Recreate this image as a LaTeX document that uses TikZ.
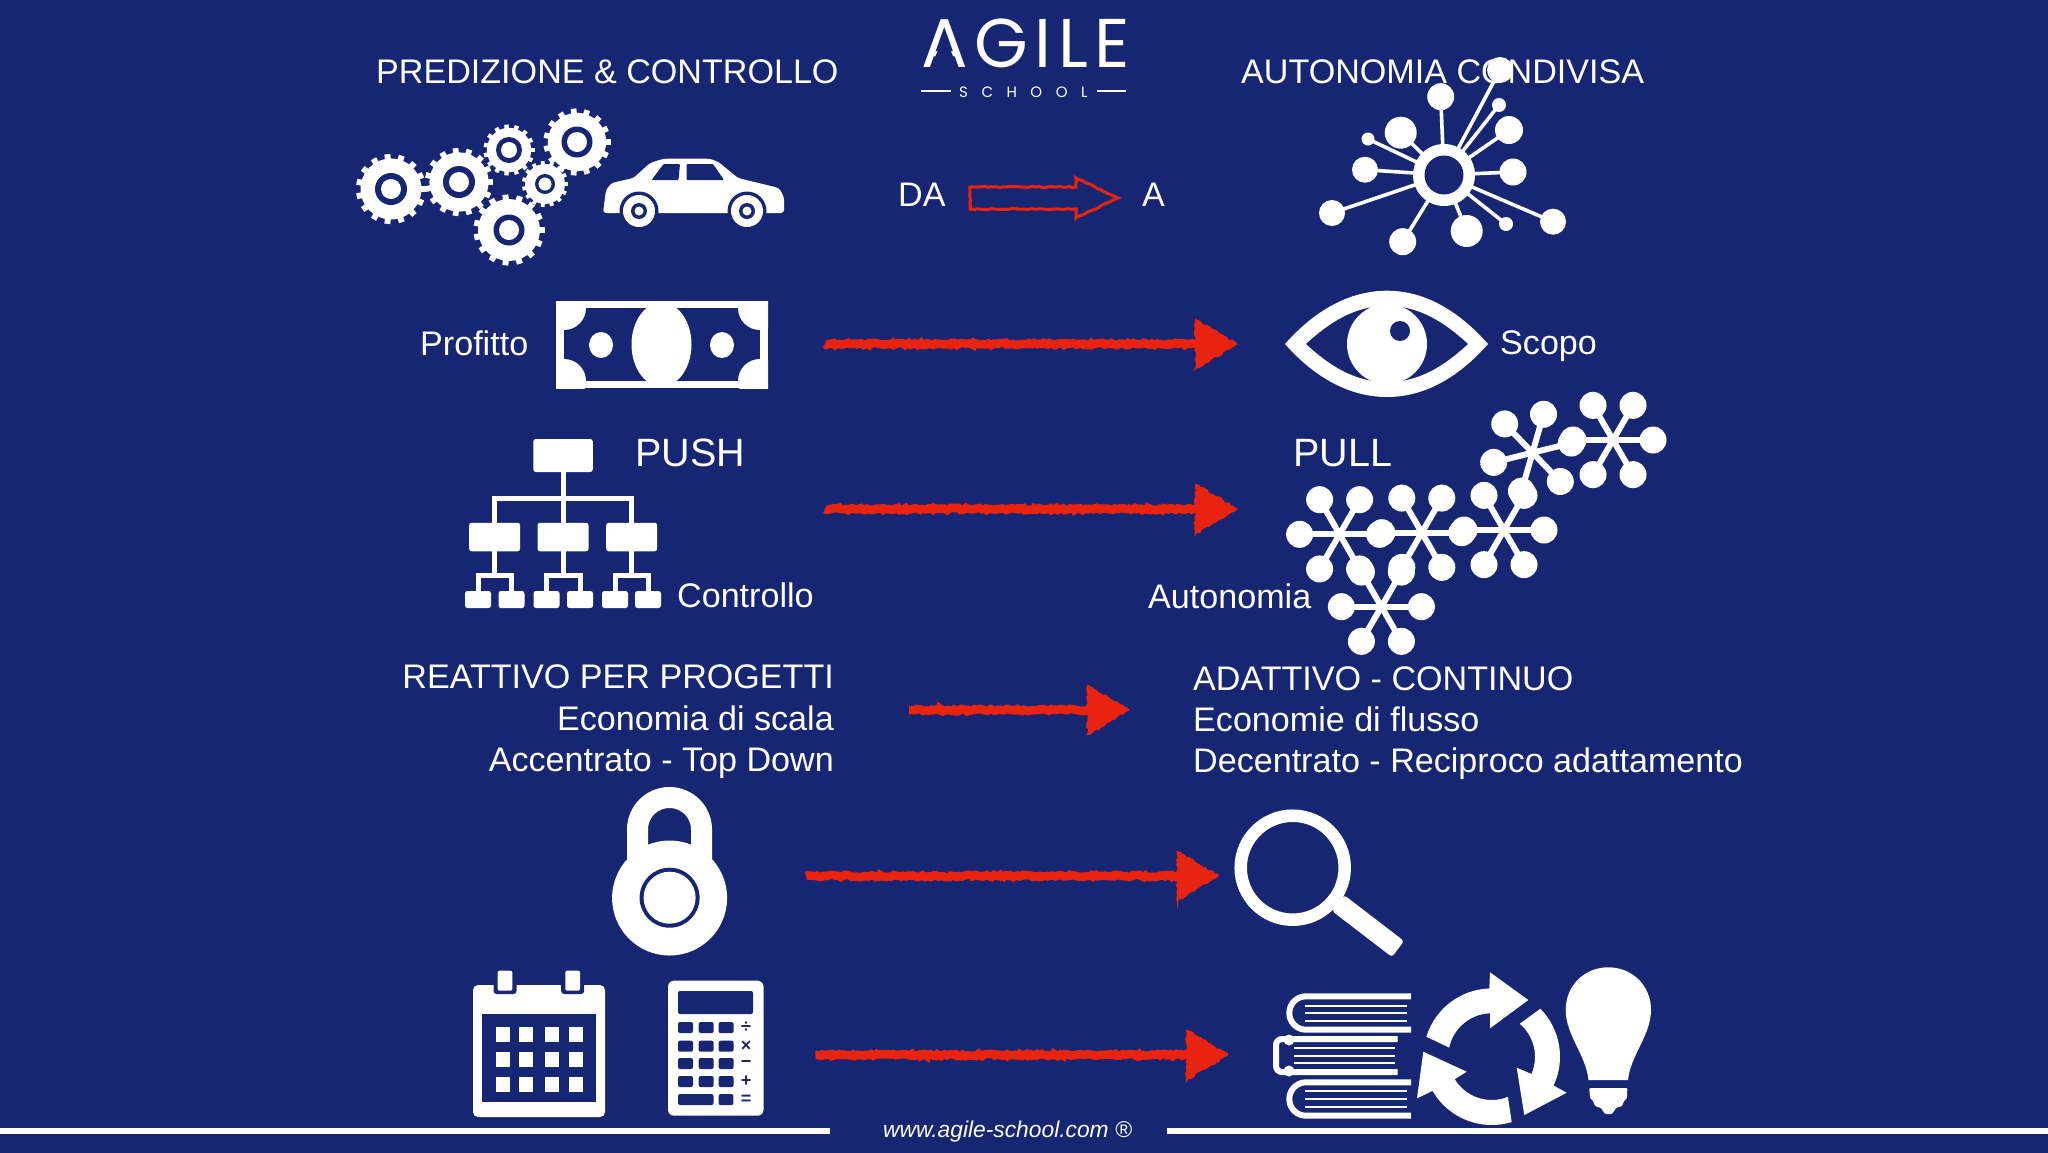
\documentclass[tikz,border=0pt]{standalone}
\usepackage{fontspec}
\setmainfont{Liberation Sans}
\newfontfamily\logofont{Poppins}
\usetikzlibrary{positioning,calc}
\usetikzlibrary{decorations.pathmorphing}
\definecolor{AgileBlue}{RGB}{23,38,114}
\definecolor{ArrowRed}{RGB}{232,36,16}
\tikzset{
  lbl/.style={text=white,inner sep=0pt,anchor=base west,font=\fontsize{34.1}{34.1}\selectfont},
  lblr/.style={lbl,anchor=base east},
  biglbl/.style={lbl,font=\fontsize{39.5}{39.5}\selectfont},
  orgbox/.style={fill=white,rounded corners=2.5pt,inner sep=0pt,minimum width=#1},
  orgline/.style={draw=white,line width=5pt},
  spoke/.style={draw=white,line width=3.6pt},
  hand/.style={decorate,decoration={random steps,segment length=2.5pt,amplitude=1.2pt}},
  redline/.style={hand,draw=ArrowRed,line width=8.5pt},
  redhead/.style={hand,draw=ArrowRed,line width=2pt,fill=ArrowRed},
  keycap/.style={fill=AgileBlue,rounded corners=2pt},
  pageline/.style={draw=white,line width=2.2pt},
  bookline/.style={draw=white,line width=6pt},
}
\newcommand{\gearicon}[5]{
  \fill[white] (#1,#2) circle ({0.87*#3});
  \foreach \ang in {0,24,...,336}
    \draw[white,line width=#3*0.17pt] ($(#1,#2)+(\ang:{0.8*#3})$) -- ($(#1,#2)+(\ang:{#3})$);
  \fill[AgileBlue] (#1,#2) circle (#4);
  \fill[white] (#1,#2) circle (#5);
}
\newcommand{\flakeicon}[3]{
  \foreach \ang in {0,60,...,300}{
    \draw[white,line width=6pt] (#1,#2) -- ($(#1,#2)+({\ang+#3}:40)$);
    \fill[white] ($(#1,#2)+({\ang+#3}:40)$) circle (13.5);
  }
}
\newcommand{\redarrow}[2]{
  \draw[redline] (#1) -- ($(#2)+(-30,0)$);
  \path[redhead] ($(#2)+(-40,-24)$) -- (#2) -- ($(#2)+(-40,24)$) -- cycle;
}
\newcommand{\wheelicon}[2]{
  \fill[AgileBlue] (#1,#2) circle (19.5);
  \fill[white] (#1,#2) circle (16);
  \fill[AgileBlue] (#1,#2) circle (8);
  \fill[white] (#1,#2) circle (4.5);
}

\begin{document}
\begin{tikzpicture}[x=1pt,y=-1pt]
\pgfmathsetseed{7}
\useasboundingbox (0,0) rectangle (2048,1152);
\fill[AgileBlue] (-3,-3) rectangle (2051,1155);

\node[lbl] (titleleft) at (376,83) {PREDIZIONE \& CONTROLLO};
\node[lbl] (titleright) at (1241,83) {AUTONOMIA CONDIVISA};
\node[lbl,font=\logofont\fontsize{69}{69}\selectfont\addfontfeature{LetterSpace=9.5}] (logo) at (921,67) {AGILE};
\fill[AgileBlue] (941,43) -- (947.5,43) -- (955,61) -- (933.5,61) -- cycle;
\node[lbl,font=\logofont\fontsize{15}{15}\selectfont\addfontfeature{LetterSpace=90}] (school) at (959,97) {SCHOOL};
\coordinate (sl0) at (921,91);
\coordinate (sl1) at (951,91);
\coordinate (sr0) at (1097,91);
\coordinate (sr1) at (1126,91);
\draw[white,line width=2.5pt] (sl0) -- (sl1);
\draw[white,line width=2.5pt] (sr0) -- (sr1);

\gearicon{391}{189}{35}{16}{10}
\gearicon{459}{182}{34}{16}{10}
\gearicon{509}{150}{25.5}{13}{8}
\gearicon{577}{142}{33.5}{15.5}{10}
\gearicon{545}{184}{23}{10}{6.5}
\gearicon{509}{230}{35.5}{15.5}{10}

\fill[white,rounded corners=3pt] (603,213) -- (606,190) -- (611.5,183) -- (633.5,178) -- (650,163)
  -- (663.6,158.7) -- (710,158.7) -- (718.5,162) -- (738,178) -- (779,188) -- (784,197) -- (784,213) -- cycle;
\fill[AgileBlue,rounded corners=1pt] (651.6,180) -- (663.6,164) -- (680,164) -- (678.5,180) -- cycle;
\fill[AgileBlue,rounded corners=1pt] (686.7,164) -- (713,164) -- (724,180) -- (686.7,180) -- cycle;
\wheelicon{639}{211}
\wheelicon{747}{211}

\node[lbl] (da) at (898,206) {DA};
\node[lbl] (a) at (1142,206) {A};
\draw[hand,draw=ArrowRed,line width=3pt,decoration={segment length=3pt,amplitude=.5pt}]
  (970,187) -- (1076,187) -- (1076,178) -- (1118,198) -- (1076,218) -- (1076,209) -- (970,209) -- cycle;

\foreach \bx/\by/\br in {1500/70/13,1440.7/96.7/13.5,1499/105/7,1509/130/14,1400.7/132.7/16,1368/139/6.5,
    1365/169.7/13,1513/172/13.5,1332/213/13,1553/221.7/13,1506/224/7,1466.7/231/16,1402.7/241.7/13.5}{
  \draw[spoke] (1444,175) -- (\bx,\by);
  \fill[white] (\bx,\by) circle (\br);
}
\fill[white] (1444,175) circle (31);
\fill[AgileBlue] (1444,175) circle (19.5);

\node[lbl] (profitto) at (420,355) {Profitto};
\fill[white] (556,301) rectangle (768,388);
\fill[AgileBlue] (564,308) rectangle (760,381);
\begin{scope}
\clip (556,301) rectangle (768,388);
\foreach \cx/\cy in {564/308,760/308,564/381,760/381}
  \fill[white] (\cx,\cy) circle (22);
\fill[white] (661.5,344.5) ellipse (30 and 42);
\end{scope}
\fill[white] (601,345) ellipse (12 and 13);
\fill[white] (722,345) ellipse (12 and 13);

\coordinate (p1) at (825,344);
\coordinate (q1) at (1236,344);
\redarrow{p1}{q1}

\fill[white] (1285,344) .. controls (1315,310) and (1350,290.7) .. (1387,290.7)
  .. controls (1424,290.7) and (1458,310) .. (1488,344)
  .. controls (1458,378) and (1424,397) .. (1387,397)
  .. controls (1350,397) and (1315,378) .. (1285,344) -- cycle;
\fill[AgileBlue] (1306,344) .. controls (1330,322) and (1355,306) .. (1387,306)
  .. controls (1419,306) and (1444,322) .. (1468,344)
  .. controls (1444,366) and (1419,382) .. (1387,382)
  .. controls (1355,382) and (1330,366) .. (1306,344) -- cycle;
\fill[white] (1387,344) circle (40);
\fill[AgileBlue] (1400,331) circle (10);
\node[lbl] (scopo) at (1500,354.5) {Scopo};

\node[biglbl] (push) at (635,466) {PUSH};
\node[orgbox=59.5pt,minimum height=33pt] (top) at (563,455.5) {};
\node[orgbox=51pt,minimum height=28.5pt] (m1) at (494.6,537) {};
\node[orgbox=51pt,minimum height=28.5pt] (m2) at (563,537) {};
\node[orgbox=51pt,minimum height=28.5pt] (m3) at (631.7,537) {};
\foreach \nn/\lx in {l1/478,l2/511.5,l3/546.5,l4/580,l5/615,l6/648}
  \node[orgbox=26pt,minimum height=17pt] (\nn) at (\lx,599.5) {};
\draw[orgline] (top.south) -- (m2.north);
\draw[orgline] (top.south) -- ++(0,26) -| (m1.north);
\draw[orgline] (top.south) -- ++(0,26) -| (m3.north);
\draw[orgline] (m1.south) -- ++(0,24) -| (l1.north);
\draw[orgline] (m1.south) -- ++(0,24) -| (l2.north);
\draw[orgline] (m2.south) -- ++(0,24) -| (l3.north);
\draw[orgline] (m2.south) -- ++(0,24) -| (l4.north);
\draw[orgline] (m3.south) -- ++(0,24) -| (l5.north);
\draw[orgline] (m3.south) -- ++(0,24) -| (l6.north);
\node[lbl] (controllo) at (677,607) {Controllo};

\coordinate (p2) at (825,509);
\coordinate (q2) at (1236,509);
\redarrow{p2}{q2}

\node[biglbl] (pull) at (1293,466) {PULL};
\flakeicon{1339.6}{534.3}{0}
\flakeicon{1421.8}{532.7}{0}
\flakeicon{1504}{530}{0}
\flakeicon{1381.4}{606.7}{0}
\flakeicon{1532.5}{452.7}{-14}
\flakeicon{1613}{440}{0}
\node[lbl] (autonomia) at (1148,608) {Autonomia};

\node[lblr] (left1) at (834,688) {REATTIVO PER PROGETTI};
\node[lblr] (left2) at (834,730) {Economia di scala};
\node[lblr] (left3) at (834,771) {Accentrato - Top Down};
\node[lbl] (right1) at (1193,690) {ADATTIVO - CONTINUO};
\node[lbl] (right2) at (1193,731) {Economie di flusso};
\node[lbl] (right3) at (1193,772) {Decentrato - Reciproco adattamento};

\coordinate (p3) at (909,710);
\coordinate (q3) at (1128,710);
\redarrow{p3}{q3}

\draw[white,line width=21pt] (637.5,885) -- (637.5,829.5) arc[start angle=180,end angle=360,radius=32] -- (701.5,885);
\fill[white] (669.6,898) circle (57.5);
\fill[AgileBlue] (669.6,897.7) circle (30);
\fill[white] (669.6,897.7) circle (26);

\coordinate (p4) at (806,876);
\coordinate (q4) at (1217.5,876);
\redarrow{p4}{q4}

\draw[white,line width=12.5pt] (1292.7,867.7) circle (52);
\fill[white,rounded corners=3pt] (1344,895) -- (1404,941) -- (1392,957) -- (1332,911) -- cycle;

\fill[white,rounded corners=5pt] (473,985) rectangle (605,1117);
\foreach \tx in {505,572.7}{
  \fill[AgileBlue,rounded corners=3pt] (\tx-11.5,980) rectangle (\tx+11.5,994);
  \fill[white,rounded corners=2pt] (\tx-7.4,970.7) rectangle (\tx+7.4,990.7);
}
\fill[AgileBlue] (482,1014) rectangle (596,1102);
\foreach \sx in {496,519,544.6,568.6}
  \foreach \sy in {1027,1052,1077}
    \fill[white] (\sx,\sy) rectangle ++(14,14.7);

\fill[white,rounded corners=6pt] (668,980.7) rectangle (763.5,1115.7);
\fill[keycap] (678,991) rectangle (753,1014);
\foreach \ky in {1022,1040.7,1058,1076}
  \foreach \kx in {678,698.7,718.6}
    \fill[keycap] (\kx,\ky) rectangle ++(15,11);
\fill[keycap] (678,1094) rectangle (713.5,1105);
\fill[keycap] (718.6,1094) rectangle (733.4,1105);
\foreach \ky/\sym/\nn in {1027.5/÷/k1,1046/×/k2,1063.5/−/k3,1081.5/+/k4,1099.5/=/k5}
  \node[text=AgileBlue,inner sep=0pt,font=\bfseries\fontsize{18}{18}\selectfont] (\nn) at (746,\ky) {\sym};

\coordinate (p5) at (815.5,1055);
\coordinate (q5) at (1227,1055);
\redarrow{p5}{q5}

\draw[bookline] (1411,996.3) -- (1306,996.3) arc[start angle=270,end angle=90,radius=16.7] -- (1411,1029.7);
\draw[bookline,rounded corners=6pt] (1397.7,1039) -- (1276,1039) -- (1276,1072) -- (1397.7,1072);
\fill[white] (1289,1040) circle (5.5);
\fill[white] (1289,1071) circle (5.5);
\draw[bookline] (1411,1082.3) -- (1306,1082.3) arc[start angle=270,end angle=90,radius=16.7] -- (1411,1115.7);
\foreach \py in {1005.7,1013.3,1021,1091,1099,1106.7}
  \draw[pageline] (1305,\py) -- (1406.7,\py);
\foreach \py in {1047.7,1055.7,1063.3}
  \draw[pageline] (1294,\py) -- (1395,\py);

\coordinate (cyc) at (1491.7,1056.7);
\fill[white] ($(cyc)+(197:68.3)$) arc[start angle=197,end angle=268,radius=68.3]
  -- (1490,972.3) -- (1528.3,1000) -- (1490,1028.3) -- (1490,1013.3)
  arc[start angle=268,end angle=192,radius=43.3] -- cycle;
\fill[white] ($(cyc)+(-44.6:68.3)$) arc[start angle=-44.6,end angle=25,radius=68.3]
  -- (1566.7,1092.7) -- (1524.3,1115) -- (1516.7,1067.7) -- ($(cyc)+(23.5:43.3)$)
  arc[start angle=23.5,end angle=-49.6,radius=43.3] -- cycle;
\fill[white] ($(cyc)+(73:68.3)$) arc[start angle=73,end angle=150,radius=68.3]
  -- (1417,1098.3) -- (1423.3,1051.7) -- (1466.7,1071.7) -- ($(cyc)+(148.7:43.3)$)
  arc[start angle=148.7,end angle=68,radius=43.3] -- cycle;

\fill[white] (1588.5,1080) .. controls (1586,1055) and (1565.7,1035) .. (1565.7,1010)
  .. controls (1565.7,985) and (1585,967.3) .. (1608.3,967.3)
  .. controls (1631.6,967.3) and (1651,985) .. (1651,1010)
  .. controls (1651,1035) and (1630.6,1055) .. (1628,1080) -- cycle;
\fill[white,rounded corners=1pt] (1589.3,1088) -- (1627.3,1088) -- (1627,1098) -- (1624,1101) -- (1622,1106) -- (1616,1108)
  -- (1612,1114) -- (1605,1114) -- (1601,1108) -- (1595,1106) -- (1593,1101) -- (1590,1098) -- cycle;

\coordinate (la) at (0,1130.5);
\coordinate (lb) at (830,1130.5);
\coordinate (ra) at (1167,1131);
\coordinate (rb) at (2048,1131);
\draw[white,line width=6pt] (la) -- (lb);
\draw[white,line width=6pt] (ra) -- (rb);
\node[lbl,font=\itshape\fontsize{22.8}{22.8}\selectfont] (site) at (883,1137) {www.agile-school.com ®};
\end{tikzpicture}
\end{document}
